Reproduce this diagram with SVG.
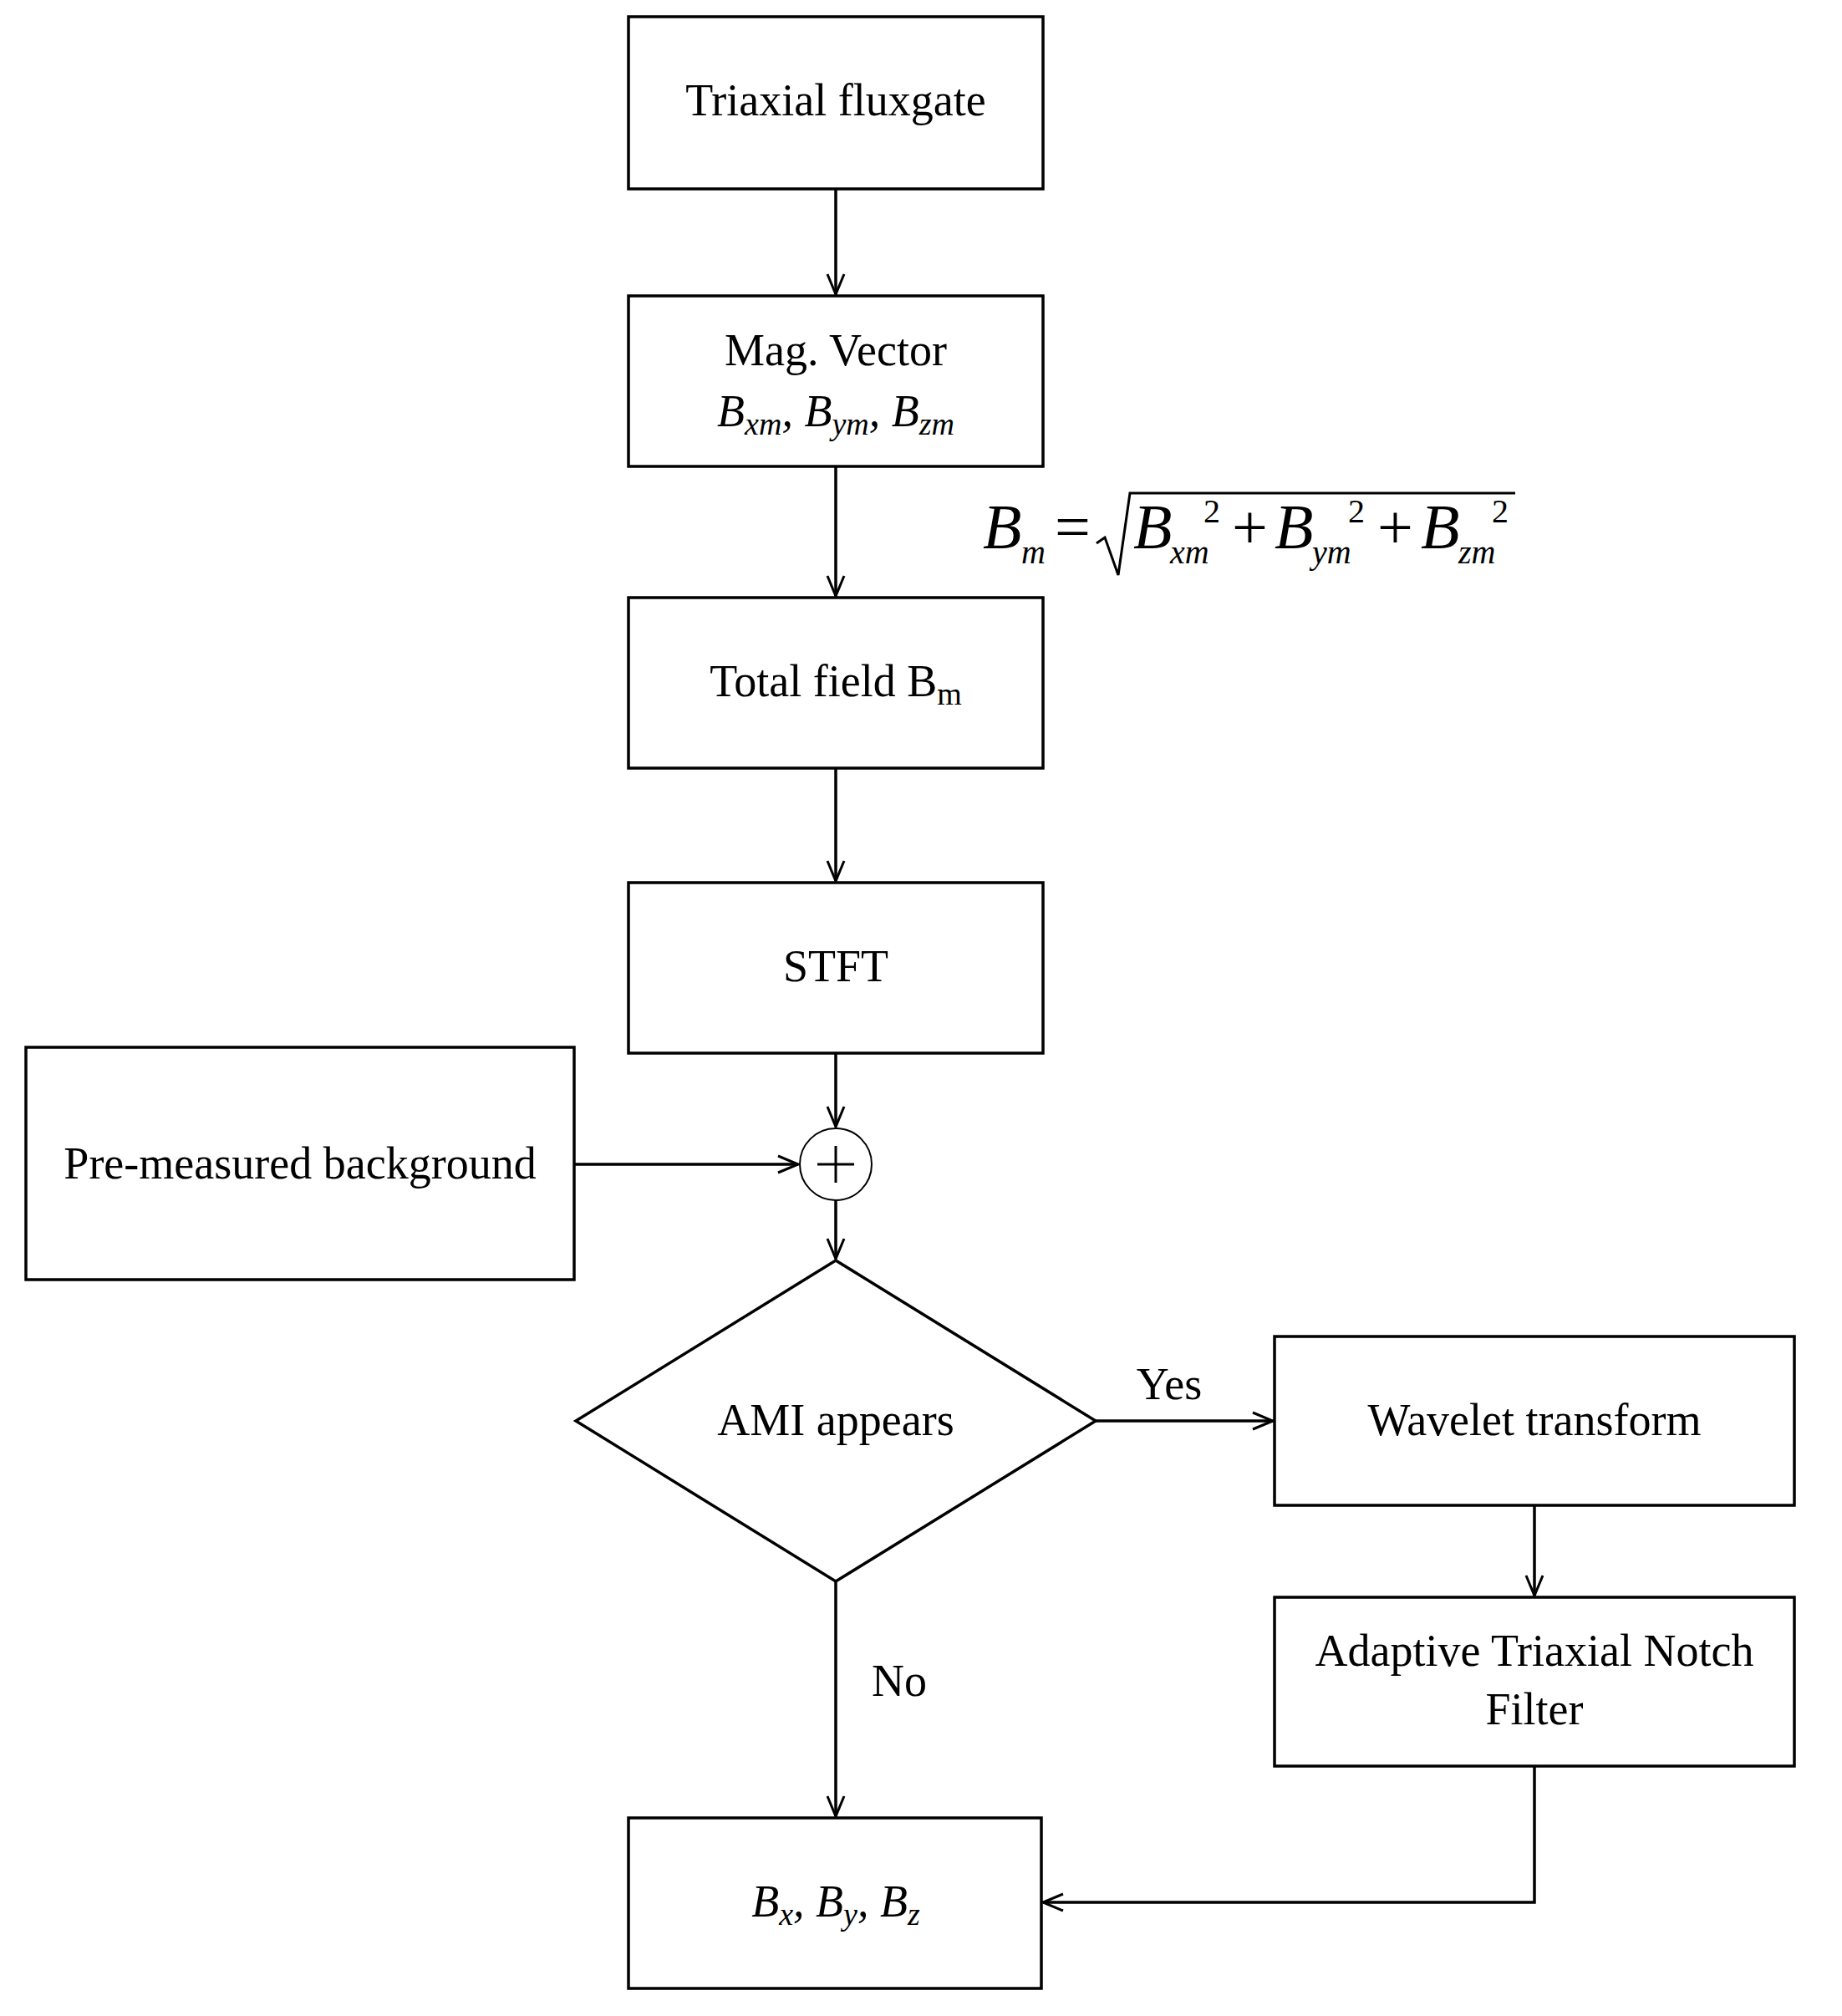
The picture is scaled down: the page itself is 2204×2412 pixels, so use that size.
<svg xmlns="http://www.w3.org/2000/svg" width="2204" height="2412" viewBox="0 0 2204 2412">
<defs>
<marker id="ah" markerWidth="30" markerHeight="30" refX="26" refY="12" orient="auto" markerUnits="userSpaceOnUse">
<path d="M2,2 L26,12 L2,22" fill="none" stroke="#000" stroke-width="3"/>
</marker>
<style>
.b{fill:#fff;stroke:#000;stroke-width:3.5}
.t{font-family:"Liberation Serif",serif;font-size:54px;fill:#000;text-anchor:middle}
.f{font-family:"Liberation Serif",serif;font-size:76px;fill:#000;text-anchor:start}
.s{font-family:"Liberation Serif",serif;font-size:40px;fill:#000;text-anchor:start}
.i{font-style:italic}
.c{fill:none;stroke:#000;stroke-width:3.5;marker-end:url(#ah)}
</style>
</defs>
<rect width="2204" height="2412" fill="#fff"/>
<g id="connectors">
<line class="c" x1="1000" y1="226" x2="1000" y2="352"/>
<line class="c" x1="1000" y1="558" x2="1000" y2="713"/>
<line class="c" x1="1000" y1="919" x2="1000" y2="1054"/>
<line class="c" x1="1000" y1="1260" x2="1000" y2="1348"/>
<line class="c" x1="687" y1="1393" x2="955" y2="1393"/>
<line class="c" x1="1000" y1="1436" x2="1000" y2="1506"/>
<line class="c" x1="1311" y1="1700" x2="1523" y2="1700"/>
<line class="c" x1="1836" y1="1801" x2="1836" y2="1909"/>
<line class="c" x1="1000" y1="1892" x2="1000" y2="2173"/>
<polyline class="c" points="1836,2113 1836,2276 1248,2276"/>
<text class="t" x="1399" y="1674">Yes</text>
<text class="t" x="1076" y="2029">No</text>
</g>
<g id="n1"><rect class="b" x="752" y="20" width="496" height="206"/><text class="t" x="1000" y="138">Triaxial fluxgate</text></g>
<g id="n2"><rect class="b" x="752" y="354" width="496" height="204"/><text class="t" x="1000" y="437">Mag. Vector</text>
<text class="t i" x="1000" y="510">B<tspan font-size="38" dy="10">xm</tspan><tspan dy="-10">, B</tspan><tspan font-size="38" dy="10">ym</tspan><tspan dy="-10">, B</tspan><tspan font-size="38" dy="10">zm</tspan></text></g>
<g id="formula">
<text class="f i" x="1176" y="656">B</text><text class="s i" x="1222" y="674">m</text>
<text class="f" x="1262" y="656">=</text>
<path d="M1312,650 L1322,643 L1338,688 L1352,590 L1813,590" fill="none" stroke="#000" stroke-width="3"/>
<text class="f i" x="1356" y="656">B</text><text class="s i" x="1400" y="674">xm</text><text class="s" x="1440" y="625">2</text>
<text class="f" x="1474" y="656">+</text>
<text class="f i" x="1525" y="656">B</text><text class="s i" x="1570" y="674">ym</text><text class="s" x="1613" y="625">2</text>
<text class="f" x="1648" y="656">+</text>
<text class="f i" x="1700" y="656">B</text><text class="s i" x="1745" y="674">zm</text><text class="s" x="1785" y="625">2</text>
</g>
<g id="n3"><rect class="b" x="752" y="715" width="496" height="204"/><text class="t" x="1000" y="833">Total field B<tspan font-size="38" dy="10">m</tspan></text></g>
<g id="n4"><rect class="b" x="752" y="1056" width="496" height="204"/><text class="t" x="1000" y="1174">STFT</text></g>
<g id="sum"><circle cx="1000" cy="1393" r="43" fill="#fff" stroke="#000" stroke-width="2"/><path d="M978,1393 H1022 M1000,1371 V1415" stroke="#000" stroke-width="3"/></g>
<g id="bg"><rect class="b" x="31" y="1253" width="656" height="278"/><text class="t" x="359" y="1410">Pre-measured background</text></g>
<g id="dec"><polygon class="b" points="1000,1508 1311,1700 1000,1892 689,1700"/><text class="t" x="1000" y="1717">AMI appears</text></g>
<g id="wav"><rect class="b" x="1525" y="1599" width="622" height="202"/><text class="t" x="1836" y="1717">Wavelet transform</text></g>
<g id="notch"><rect class="b" x="1525" y="1911" width="622" height="202"/><text class="t" x="1836" y="1993">Adaptive Triaxial Notch</text><text class="t" x="1836" y="2063">Filter</text></g>
<g id="out"><rect class="b" x="752" y="2175" width="494" height="204"/><text class="t i" x="1000" y="2293">B<tspan font-size="38" dy="10">x</tspan><tspan dy="-10">, B</tspan><tspan font-size="38" dy="10">y</tspan><tspan dy="-10">, B</tspan><tspan font-size="38" dy="10">z</tspan></text></g>
</svg>
